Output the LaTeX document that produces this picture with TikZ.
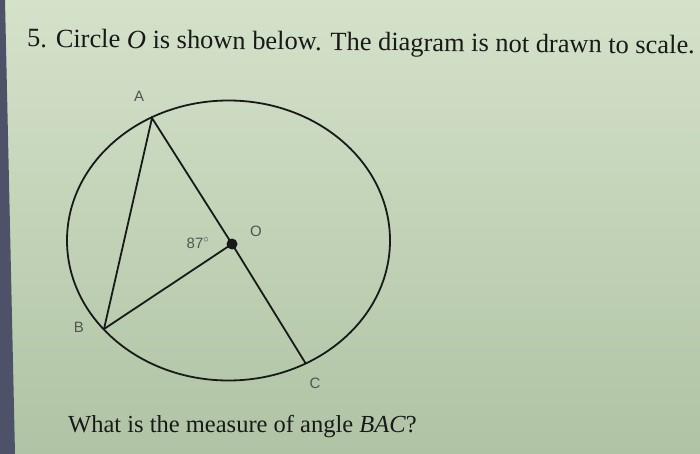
\documentclass[tikz,border=0pt]{standalone}
\usepackage{fontspec}
\setmainfont{Liberation Serif}
\newfontfamily\labelfont{Liberation Sans}
\usetikzlibrary{positioning}

\definecolor{screentop}{RGB}{212,226,202}
\definecolor{screenbot}{RGB}{176,195,164}
\definecolor{bezel}{RGB}{78,82,104}
\definecolor{ink}{RGB}{24,26,26}
\definecolor{labelgray}{RGB}{80,86,84}

\begin{document}
\begin{tikzpicture}[x=1pt,y=-1pt,
	seg/.style={draw=ink, line width=1.8pt},
	pt/.style={font=\labelfont\fontsize{15}{17}\selectfont, text=labelgray, inner sep=1pt},
	txt/.style={text=ink, inner sep=0pt, anchor=base west}]
	\useasboundingbox (0,0) rectangle (700,454);
	\shade[top color=screentop, bottom color=screenbot] (0,0) rectangle (700,454);
	\fill[bezel] (0,0) -- (5,0) -- (15,454) -- (0,454) -- cycle;

	\node[txt, rotate=-0.6, font=\fontsize{26.4}{30}\selectfont] (title) at (27,47)
		{5. Circle \textit{O} is shown below. The diagram is not drawn to scale.};
	\node[txt, font=\fontsize{24.5}{28}\selectfont] (ask) at (68,432)
		{What is the measure of angle \textit{BAC}?};

	\draw[seg] (228.5,240.5) ellipse [x radius=161.5pt, y radius=140pt];

	\coordinate (O) at (232,244);
	\coordinate (A) at (152,118);
	\coordinate (B) at (104,329);
	\coordinate (C) at (306,364);

	\draw[seg] (B) -- (A) -- (O) -- (C);
	\draw[seg] (B) -- (O);
	\fill[ink] (O) circle [radius=5.5pt];

	\node[pt] (a) at (139,96) {A};
	\node[pt] (b) at (79,327) {B};
	\node[pt] (c) at (315,383) {C};
	\node[pt] (o) at (256,231) {O};
	\node[pt] (ang) at (198,243) {87$^{\circ}$};
\end{tikzpicture}
\end{document}
